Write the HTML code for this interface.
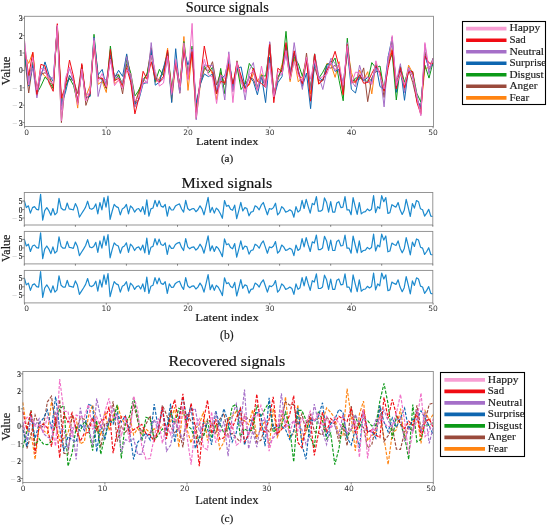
<!DOCTYPE html>
<html><head><meta charset="utf-8"><style>
html,body{margin:0;padding:0;background:#fff;width:550px;height:527px;overflow:hidden}
svg{display:block}
.ser{font-family:"Liberation Serif",serif;fill:#1a1a1a;stroke:#1a1a1a;stroke-width:0.18}
.ttl{font-family:"Liberation Serif",serif;fill:#111;stroke:#111;stroke-width:0.16}
.lg{stroke-width:0.14}
.mn{font-family:"Liberation Serif",serif;fill:#b0b0b0}
.sans{font-family:"DejaVu Sans","Liberation Sans",sans-serif;fill:#333}
</style></head><body>
<svg width="550" height="527" viewBox="0 0 550 527">
<rect width="550" height="527" fill="#fff"/>
<text x="227.25" y="12.4" font-size="13.6" text-anchor="middle" class="ttl" textLength="83" lengthAdjust="spacingAndGlyphs">Source signals</text>
<g fill="none" stroke-width="1.0" stroke-linejoin="round">
<polyline stroke="#ff8412" points="24.6,54.7 28.7,63.4 32.8,52.5 36.9,91.2 40.9,71.7 45.0,76.4 49.1,78.5 53.2,85.8 57.3,27.2 61.4,101.7 65.5,86.9 69.5,75.8 73.6,81.1 77.7,108.1 81.8,65.0 85.9,96.3 90.0,85.9 94.0,42.4 98.1,84.3 102.2,81.4 106.3,92.5 110.4,50.6 114.5,83.7 118.6,80.6 122.6,85.2 126.7,55.5 130.8,75.5 134.9,106.0 139.0,89.5 143.1,82.1 147.2,73.0 151.2,51.9 155.3,82.3 159.4,78.3 163.5,70.8 167.6,48.2 171.7,101.7 175.7,62.6 179.8,89.4 183.9,36.5 188.0,90.4 192.1,53.0 196.2,118.8 200.3,84.7 204.3,69.5 208.4,65.7 212.5,74.4 216.6,99.8 220.7,72.9 224.8,84.1 228.8,67.2 232.9,90.3 237.0,67.6 241.1,82.7 245.2,87.7 249.3,85.0 253.4,73.3 257.4,81.8 261.5,73.8 265.6,83.2 269.7,44.8 273.8,92.0 277.9,80.3 282.0,64.3 286.0,49.5 290.1,81.7 294.2,59.0 298.3,81.9 302.4,76.5 306.5,57.9 310.6,93.8 314.6,54.3 318.7,83.7 322.8,80.2 326.9,63.4 331.0,64.5 335.1,77.4 339.1,61.7 343.2,95.7 347.3,46.0 351.4,72.7 355.5,83.4 359.6,70.1 363.7,79.7 367.7,71.7 371.8,93.9 375.9,63.2 380.0,74.5 384.1,90.3 388.2,62.4 392.2,48.4 396.3,80.2 400.4,74.4 404.5,86.8 408.6,65.2 412.7,73.1 416.8,98.3 420.8,108.1 424.9,68.7 429.0,67.3 433.1,65.3"/>
<polyline stroke="#9a4a3c" points="24.6,56.7 28.7,93.0 32.8,64.0 36.9,95.5 40.9,74.3 45.0,72.7 49.1,75.8 53.2,86.7 57.3,27.4 61.4,122.6 65.5,81.5 69.5,79.2 73.6,80.4 77.7,93.6 81.8,65.0 85.9,105.4 90.0,93.4 94.0,40.2 98.1,77.4 102.2,78.5 106.3,88.3 110.4,57.8 114.5,76.4 118.6,74.3 122.6,93.9 126.7,63.9 130.8,77.3 134.9,103.5 139.0,91.7 143.1,82.0 147.2,73.6 151.2,47.7 155.3,77.1 159.4,80.8 163.5,68.3 167.6,59.3 171.7,94.7 175.7,63.1 179.8,93.3 183.9,45.1 188.0,74.4 192.1,48.1 196.2,107.5 200.3,83.5 204.3,68.3 208.4,71.1 212.5,61.7 216.6,85.0 220.7,72.2 224.8,84.8 228.8,57.6 232.9,89.8 237.0,60.8 241.1,81.0 245.2,84.2 249.3,77.8 253.4,79.1 257.4,89.8 261.5,77.0 265.6,87.3 269.7,42.6 273.8,93.1 277.9,78.6 282.0,67.3 286.0,51.2 290.1,74.5 294.2,53.0 298.3,71.8 302.4,84.4 306.5,53.0 310.6,88.5 314.6,66.8 318.7,80.6 322.8,80.8 326.9,66.9 331.0,68.2 335.1,65.3 339.1,71.0 343.2,87.1 347.3,51.1 351.4,80.5 355.5,80.2 359.6,79.3 363.7,67.9 367.7,101.7 371.8,77.7 375.9,71.4 380.0,71.5 384.1,97.5 388.2,61.9 392.2,39.0 396.3,88.8 400.4,70.5 404.5,90.1 408.6,69.2 412.7,82.4 416.8,99.9 420.8,109.3 424.9,52.1 429.0,69.5 433.1,58.0"/>
<polyline stroke="#0c9a18" points="24.6,58.2 28.7,77.9 32.8,62.1 36.9,93.5 40.9,86.1 45.0,77.1 49.1,81.4 53.2,88.6 57.3,25.8 61.4,106.0 65.5,86.7 69.5,78.1 73.6,85.6 77.7,103.1 81.8,67.6 85.9,98.1 90.0,96.3 94.0,34.3 98.1,77.6 102.2,79.5 106.3,88.3 110.4,46.0 114.5,80.4 118.6,75.0 122.6,84.4 126.7,59.7 130.8,73.3 134.9,96.0 139.0,90.0 143.1,79.6 147.2,74.0 151.2,52.9 155.3,81.6 159.4,69.4 163.5,75.8 167.6,51.8 171.7,88.2 175.7,61.4 179.8,85.0 183.9,41.5 188.0,75.5 192.1,46.1 196.2,109.7 200.3,82.8 204.3,65.9 208.4,73.1 212.5,67.1 216.6,93.7 220.7,68.4 224.8,93.8 228.8,59.9 232.9,85.5 237.0,66.4 241.1,89.5 245.2,83.2 249.3,63.4 253.4,69.5 257.4,87.2 261.5,75.5 265.6,76.1 269.7,48.5 273.8,97.0 277.9,77.5 282.0,69.8 286.0,31.3 290.1,79.3 294.2,57.3 298.3,63.6 302.4,76.4 306.5,60.8 310.6,88.4 314.6,53.8 318.7,78.4 322.8,72.2 326.9,64.2 331.0,64.5 335.1,58.0 339.1,80.3 343.2,100.8 347.3,38.2 351.4,83.2 355.5,78.0 359.6,77.7 363.7,79.8 367.7,81.8 371.8,62.6 375.9,67.9 380.0,66.0 384.1,90.4 388.2,63.7 392.2,53.9 396.3,100.0 400.4,66.1 404.5,82.3 408.6,69.7 412.7,71.9 416.8,93.3 420.8,101.9 424.9,65.2 429.0,78.1 433.1,62.0"/>
<polyline stroke="#0e66b0" points="24.6,52.5 28.7,86.1 32.8,64.8 36.9,88.6 40.9,75.8 45.0,61.9 49.1,75.2 53.2,81.4 57.3,26.6 61.4,104.9 65.5,92.1 69.5,75.3 73.6,81.7 77.7,101.4 81.8,68.9 85.9,97.4 90.0,96.5 94.0,37.3 98.1,74.9 102.2,69.4 106.3,86.9 110.4,54.8 114.5,77.9 118.6,70.3 122.6,76.4 126.7,53.9 130.8,81.5 134.9,104.3 139.0,99.2 143.1,83.7 147.2,82.5 151.2,49.7 155.3,85.2 159.4,82.2 163.5,67.6 167.6,52.7 171.7,102.6 175.7,48.7 179.8,90.4 183.9,50.3 188.0,65.2 192.1,50.3 196.2,102.8 200.3,84.4 204.3,73.9 208.4,76.6 212.5,74.1 216.6,91.5 220.7,78.4 224.8,75.8 228.8,59.0 232.9,85.9 237.0,68.8 241.1,66.9 245.2,88.0 249.3,76.3 253.4,81.6 257.4,94.8 261.5,76.2 265.6,102.6 269.7,57.0 273.8,98.4 277.9,82.6 282.0,76.6 286.0,44.6 290.1,72.5 294.2,52.9 298.3,70.0 302.4,86.4 306.5,73.0 310.6,108.7 314.6,63.1 318.7,77.1 322.8,80.5 326.9,65.4 331.0,61.3 335.1,71.4 339.1,69.2 343.2,83.1 347.3,50.2 351.4,89.3 355.5,93.0 359.6,74.8 363.7,81.0 367.7,77.4 371.8,81.1 375.9,64.8 380.0,86.6 384.1,89.5 388.2,56.8 392.2,37.1 396.3,92.4 400.4,67.3 404.5,100.3 408.6,67.5 412.7,75.9 416.8,98.9 420.8,107.2 424.9,55.9 429.0,68.2 433.1,64.6"/>
<polyline stroke="#a56fc8" points="24.6,42.6 28.7,79.9 32.8,68.1 36.9,97.9 40.9,74.1 45.0,67.4 49.1,77.4 53.2,78.1 57.3,30.5 61.4,109.7 65.5,83.3 69.5,68.7 73.6,80.1 77.7,100.5 81.8,71.0 85.9,94.0 90.0,94.4 94.0,37.9 98.1,96.5 102.2,79.2 106.3,79.8 110.4,60.6 114.5,76.9 118.6,77.4 122.6,83.4 126.7,56.7 130.8,81.2 134.9,107.2 139.0,98.9 143.1,78.0 147.2,83.5 151.2,42.6 155.3,78.7 159.4,82.7 163.5,78.7 167.6,58.0 171.7,94.9 175.7,62.6 179.8,93.0 183.9,48.1 188.0,75.8 192.1,48.9 196.2,119.9 200.3,82.6 204.3,64.8 208.4,65.8 212.5,65.3 216.6,90.2 220.7,75.3 224.8,100.0 228.8,51.8 232.9,91.8 237.0,64.8 241.1,75.8 245.2,100.0 249.3,70.3 253.4,62.6 257.4,89.7 261.5,76.4 265.6,84.4 269.7,41.7 273.8,97.2 277.9,77.9 282.0,73.3 286.0,54.5 290.1,76.6 294.2,42.6 298.3,70.4 302.4,89.5 306.5,59.0 310.6,90.0 314.6,53.9 318.7,75.9 322.8,89.5 326.9,70.6 331.0,58.2 335.1,63.6 339.1,72.0 343.2,91.1 347.3,42.7 351.4,81.0 355.5,86.9 359.6,65.2 363.7,80.2 367.7,82.1 371.8,83.7 375.9,68.5 380.0,73.3 384.1,106.9 388.2,56.4 392.2,44.6 396.3,81.9 400.4,63.7 404.5,92.6 408.6,68.8 412.7,75.8 416.8,94.0 420.8,115.3 424.9,44.3 429.0,73.6 433.1,58.2"/>
<polyline stroke="#f00c14" points="24.6,48.6 28.7,75.6 32.8,52.3 36.9,94.4 40.9,64.3 45.0,65.9 49.1,83.0 53.2,91.3 57.3,23.7 61.4,98.2 65.5,85.8 69.5,60.0 73.6,76.9 77.7,103.0 81.8,63.6 85.9,98.9 90.0,94.2 94.0,44.3 98.1,78.6 102.2,78.0 106.3,87.8 110.4,49.4 114.5,80.8 118.6,78.3 122.6,86.6 126.7,67.8 130.8,82.6 134.9,113.9 139.0,97.1 143.1,71.3 147.2,79.4 151.2,61.7 155.3,79.1 159.4,82.0 163.5,76.4 167.6,50.1 171.7,92.8 175.7,62.5 179.8,86.0 183.9,49.5 188.0,78.9 192.1,51.6 196.2,112.4 200.3,79.5 204.3,46.0 208.4,67.9 212.5,71.8 216.6,93.7 220.7,81.3 224.8,82.9 228.8,63.8 232.9,84.1 237.0,62.9 241.1,76.0 245.2,89.3 249.3,83.2 253.4,68.1 257.4,80.9 261.5,83.6 265.6,87.2 269.7,44.5 273.8,102.7 277.9,68.2 282.0,71.9 286.0,42.6 290.1,78.4 294.2,50.8 298.3,72.7 302.4,83.6 306.5,59.8 310.6,101.2 314.6,54.1 318.7,84.2 322.8,79.6 326.9,70.3 331.0,63.4 335.1,51.3 339.1,66.7 343.2,94.7 347.3,44.5 351.4,82.1 355.5,82.0 359.6,74.8 363.7,83.3 367.7,82.4 371.8,73.4 375.9,65.8 380.0,72.6 384.1,91.2 388.2,67.7 392.2,50.5 396.3,88.9 400.4,67.6 404.5,87.8 408.6,72.1 412.7,71.4 416.8,102.1 420.8,113.9 424.9,55.9 429.0,63.0 433.1,63.5"/>
<polyline stroke="#f070c8" points="24.6,40.8 28.7,85.0 32.8,57.5 36.9,90.2 40.9,68.2 45.0,70.4 49.1,80.7 53.2,83.8 57.3,25.2 61.4,120.9 65.5,77.6 69.5,66.9 73.6,82.2 77.7,104.8 81.8,68.9 85.9,101.0 90.0,91.0 94.0,40.5 98.1,81.5 102.2,73.5 106.3,86.7 110.4,59.1 114.5,85.6 118.6,79.9 122.6,88.7 126.7,69.6 130.8,73.7 134.9,100.9 139.0,96.5 143.1,82.8 147.2,82.2 151.2,55.1 155.3,71.4 159.4,86.1 163.5,83.1 167.6,55.9 171.7,93.4 175.7,59.4 179.8,87.4 183.9,42.8 188.0,80.2 192.1,23.4 196.2,117.4 200.3,78.5 204.3,59.2 208.4,74.7 212.5,77.3 216.6,103.5 220.7,75.1 224.8,78.4 228.8,54.4 232.9,102.6 237.0,62.3 241.1,81.9 245.2,92.5 249.3,74.6 253.4,70.5 257.4,90.7 261.5,66.1 265.6,87.6 269.7,63.4 273.8,96.9 277.9,71.3 282.0,74.5 286.0,50.7 290.1,79.1 294.2,61.4 298.3,75.7 302.4,81.2 306.5,57.1 310.6,79.2 314.6,60.6 318.7,78.8 322.8,76.6 326.9,74.3 331.0,62.0 335.1,70.4 339.1,63.6 343.2,85.3 347.3,45.7 351.4,84.2 355.5,72.1 359.6,72.8 363.7,78.6 367.7,76.7 371.8,84.5 375.9,60.8 380.0,75.6 384.1,88.9 388.2,62.0 392.2,35.6 396.3,85.5 400.4,72.6 404.5,85.1 408.6,67.8 412.7,75.6 416.8,97.1 420.8,115.6 424.9,42.6 429.0,68.6 433.1,60.0"/>
</g>
<rect x="24.5" y="16.3" width="409.0" height="110.2" fill="none" stroke="#8a8a8a" stroke-width="0.9"/>
<line x1="22.5" y1="122.6" x2="24.5" y2="122.6" stroke="#555" stroke-width="0.7"/>
<text x="22.6" y="125.6" font-size="7.3" text-anchor="end" class="ser">3</text>
<text x="11.9" y="125.6" font-size="7.3" class="mn" textLength="5.2" lengthAdjust="spacingAndGlyphs">−</text>
<line x1="22.5" y1="105.2" x2="24.5" y2="105.2" stroke="#555" stroke-width="0.7"/>
<text x="22.6" y="108.2" font-size="7.3" text-anchor="end" class="ser">2</text>
<text x="11.9" y="108.2" font-size="7.3" class="mn" textLength="5.2" lengthAdjust="spacingAndGlyphs">−</text>
<line x1="22.5" y1="87.8" x2="24.5" y2="87.8" stroke="#555" stroke-width="0.7"/>
<text x="22.6" y="90.8" font-size="7.3" text-anchor="end" class="ser">1</text>
<text x="11.9" y="90.8" font-size="7.3" class="mn" textLength="5.2" lengthAdjust="spacingAndGlyphs">−</text>
<line x1="22.5" y1="70.4" x2="24.5" y2="70.4" stroke="#555" stroke-width="0.7"/>
<text x="22.6" y="73.4" font-size="7.3" text-anchor="end" class="ser">0</text>
<line x1="22.5" y1="53.0" x2="24.5" y2="53.0" stroke="#555" stroke-width="0.7"/>
<text x="22.6" y="56.0" font-size="7.3" text-anchor="end" class="ser">1</text>
<line x1="22.5" y1="35.6" x2="24.5" y2="35.6" stroke="#555" stroke-width="0.7"/>
<text x="22.6" y="38.6" font-size="7.3" text-anchor="end" class="ser">2</text>
<line x1="22.5" y1="18.2" x2="24.5" y2="18.2" stroke="#555" stroke-width="0.7"/>
<text x="22.6" y="21.2" font-size="7.3" text-anchor="end" class="ser">3</text>
<line x1="24.6" y1="126.5" x2="24.6" y2="128.3" stroke="#555" stroke-width="0.7"/>
<text x="26.6" y="135.0" font-size="7.5" text-anchor="middle" class="sans">0</text>
<line x1="106.3" y1="126.5" x2="106.3" y2="128.3" stroke="#555" stroke-width="0.7"/>
<text x="106.3" y="135.0" font-size="7.5" text-anchor="middle" class="sans">10</text>
<line x1="188.0" y1="126.5" x2="188.0" y2="128.3" stroke="#555" stroke-width="0.7"/>
<text x="188.0" y="135.0" font-size="7.5" text-anchor="middle" class="sans">20</text>
<line x1="269.7" y1="126.5" x2="269.7" y2="128.3" stroke="#555" stroke-width="0.7"/>
<text x="269.7" y="135.0" font-size="7.5" text-anchor="middle" class="sans">30</text>
<line x1="351.4" y1="126.5" x2="351.4" y2="128.3" stroke="#555" stroke-width="0.7"/>
<text x="351.4" y="135.0" font-size="7.5" text-anchor="middle" class="sans">40</text>
<line x1="433.1" y1="126.5" x2="433.1" y2="128.3" stroke="#555" stroke-width="0.7"/>
<text x="433.1" y="135.0" font-size="7.5" text-anchor="middle" class="sans">50</text>
<text transform="translate(10.0,70.9) rotate(-90)" font-size="11.6" text-anchor="middle" class="ser" textLength="28.6" lengthAdjust="spacingAndGlyphs">Value</text>
<text x="227.2" y="144.8" font-size="10.8" text-anchor="middle" class="ser" textLength="62.6" lengthAdjust="spacingAndGlyphs">Latent index</text>
<text x="227.1" y="161.7" font-size="11.2" text-anchor="middle" class="ser">(a)</text>
<rect x="462.5" y="21.5" width="83.0" height="83.0" fill="#fff" stroke="#000" stroke-width="1.1"/>
<line x1="466.1" y1="28.6" x2="506.5" y2="28.6" stroke="#f79fd4" stroke-width="3.6"/>
<text x="509.4" y="31.4" font-size="9.6" class="ser lg" textLength="30.8" lengthAdjust="spacingAndGlyphs">Happy</text>
<line x1="466.1" y1="40.2" x2="506.5" y2="40.2" stroke="#f00c14" stroke-width="3.6"/>
<text x="509.4" y="43.0" font-size="9.6" class="ser lg" textLength="16.3" lengthAdjust="spacingAndGlyphs">Sad</text>
<line x1="466.1" y1="51.7" x2="506.5" y2="51.7" stroke="#a56fc8" stroke-width="3.6"/>
<text x="509.4" y="54.5" font-size="9.6" class="ser lg" textLength="34.6" lengthAdjust="spacingAndGlyphs">Neutral</text>
<line x1="466.1" y1="63.3" x2="506.5" y2="63.3" stroke="#0e66b0" stroke-width="3.6"/>
<text x="509.4" y="66.1" font-size="9.6" class="ser lg" textLength="36.9" lengthAdjust="spacingAndGlyphs">Surprise</text>
<line x1="466.1" y1="74.8" x2="506.5" y2="74.8" stroke="#0c9a18" stroke-width="3.6"/>
<text x="509.4" y="77.6" font-size="9.6" class="ser lg" textLength="34.2" lengthAdjust="spacingAndGlyphs">Disgust</text>
<line x1="466.1" y1="86.3" x2="506.5" y2="86.3" stroke="#9a4a3c" stroke-width="3.6"/>
<text x="509.4" y="89.1" font-size="9.6" class="ser lg" textLength="28" lengthAdjust="spacingAndGlyphs">Anger</text>
<line x1="466.1" y1="97.9" x2="506.5" y2="97.9" stroke="#ff8412" stroke-width="3.6"/>
<text x="509.4" y="100.7" font-size="9.6" class="ser lg" textLength="19.7" lengthAdjust="spacingAndGlyphs">Fear</text>
<text x="226.85" y="188.2" font-size="13.6" text-anchor="middle" class="ttl" textLength="90.6" lengthAdjust="spacingAndGlyphs">Mixed signals</text>
<polyline fill="none" stroke="#1c8ace" stroke-width="1.2" stroke-linejoin="round" points="24.3,200.7 26.3,207.6 28.4,205.8 30.4,213.1 32.5,207.6 34.5,206.6 36.6,209.3 38.6,209.8 40.6,194.4 42.7,220.2 44.7,210.7 46.8,207.6 48.8,210.7 50.9,215.3 52.9,208.5 54.9,214.8 57.0,212.6 59.0,198.4 61.1,208.0 63.1,209.8 65.2,209.8 67.2,203.0 69.2,208.9 71.3,209.3 73.3,210.0 75.4,203.6 77.4,207.8 79.4,217.2 81.5,213.8 83.5,210.7 85.6,207.1 87.6,201.2 89.7,208.5 91.7,209.3 93.7,208.0 95.8,203.9 97.8,213.9 99.9,202.5 101.9,209.8 104.0,197.6 106.0,207.1 108.0,196.2 110.1,219.4 112.1,211.5 114.2,204.4 116.2,206.6 118.3,207.6 120.3,214.8 122.3,208.9 124.4,207.6 126.4,204.4 128.5,213.9 130.5,205.8 132.6,208.0 134.6,212.1 136.6,209.3 138.7,208.5 140.7,211.7 142.8,206.6 144.8,214.4 146.8,199.8 148.9,216.1 150.9,208.9 153.0,208.0 155.0,200.3 157.1,206.6 159.1,200.7 161.1,206.1 163.2,207.1 165.2,204.4 167.3,216.1 169.3,206.6 171.4,210.0 173.4,209.8 175.4,206.1 177.5,204.7 179.5,203.9 181.6,209.0 183.6,212.1 185.7,200.3 187.7,208.5 189.7,210.3 191.8,208.9 193.8,208.5 195.9,211.7 197.9,209.8 200.0,205.8 202.0,208.9 204.0,214.8 206.1,206.1 208.1,197.4 210.2,212.4 212.2,207.4 214.3,213.1 216.3,208.1 218.3,210.0 220.4,213.8 222.4,218.3 224.5,200.5 226.5,206.3 228.6,205.4 230.6,209.2 232.6,210.3 234.7,205.1 236.7,218.7 238.8,210.7 240.8,202.4 242.8,211.0 244.9,207.6 246.9,208.5 249.0,215.8 251.0,212.1 253.1,211.5 255.1,205.8 257.1,207.1 259.2,209.8 261.2,205.2 263.3,202.5 265.3,208.5 267.4,214.8 269.4,208.5 271.4,209.3 273.5,207.6 275.5,203.2 277.6,214.8 279.6,212.6 281.7,206.6 283.7,208.5 285.7,212.1 287.8,211.2 289.8,209.8 291.9,211.2 293.9,217.2 296.0,206.6 298.0,212.1 300.0,210.3 302.1,200.3 304.1,208.5 306.2,199.3 308.2,206.6 310.2,213.1 312.3,203.4 314.3,204.7 316.4,196.6 318.4,211.2 320.5,211.2 322.5,209.7 324.5,197.9 326.6,202.5 328.6,212.1 330.7,201.7 332.7,212.1 334.8,212.1 336.8,203.0 338.8,201.7 340.9,207.6 342.9,207.1 345.0,196.6 347.0,209.8 349.1,209.8 351.1,214.8 353.1,197.6 355.2,206.6 357.2,214.4 359.3,202.5 361.3,213.9 363.4,212.1 365.4,211.7 367.4,209.0 369.5,210.7 371.5,209.2 373.6,195.7 375.6,212.6 377.7,206.6 379.7,208.5 381.7,195.7 383.8,201.7 385.8,197.6 387.9,213.4 389.9,212.6 391.9,204.7 394.0,206.1 396.0,207.1 398.1,202.5 400.1,209.8 402.2,214.4 404.2,210.3 406.2,199.3 408.3,207.8 410.3,216.5 412.4,203.6 414.4,208.1 416.5,200.5 418.5,201.7 420.5,208.8 422.6,209.7 424.6,216.1 426.7,213.1 428.7,209.3 430.8,216.1 432.8,216.5"/>
<rect x="24.3" y="192.5" width="408.5" height="32.5" fill="none" stroke="#8a8a8a" stroke-width="0.9"/>
<line x1="22.3" y1="201.0" x2="24.3" y2="201.0" stroke="#555" stroke-width="0.7"/>
<text x="22.4" y="204.0" font-size="7.3" text-anchor="end" class="ser">5</text>
<line x1="22.3" y1="209.5" x2="24.3" y2="209.5" stroke="#555" stroke-width="0.7"/>
<text x="22.4" y="212.5" font-size="7.3" text-anchor="end" class="ser">0</text>
<line x1="22.3" y1="218.0" x2="24.3" y2="218.0" stroke="#555" stroke-width="0.7"/>
<text x="22.4" y="221.0" font-size="7.3" text-anchor="end" class="ser">5</text>
<text x="11.7" y="221.0" font-size="7.3" class="mn" textLength="5.2" lengthAdjust="spacingAndGlyphs">−</text>
<line x1="24.3" y1="225.0" x2="24.3" y2="226.8" stroke="#555" stroke-width="0.7"/>
<line x1="75.4" y1="225.0" x2="75.4" y2="226.8" stroke="#555" stroke-width="0.7"/>
<line x1="126.4" y1="225.0" x2="126.4" y2="226.8" stroke="#555" stroke-width="0.7"/>
<line x1="177.5" y1="225.0" x2="177.5" y2="226.8" stroke="#555" stroke-width="0.7"/>
<line x1="228.5" y1="225.0" x2="228.5" y2="226.8" stroke="#555" stroke-width="0.7"/>
<line x1="279.6" y1="225.0" x2="279.6" y2="226.8" stroke="#555" stroke-width="0.7"/>
<line x1="330.7" y1="225.0" x2="330.7" y2="226.8" stroke="#555" stroke-width="0.7"/>
<line x1="381.7" y1="225.0" x2="381.7" y2="226.8" stroke="#555" stroke-width="0.7"/>
<line x1="432.8" y1="225.0" x2="432.8" y2="226.8" stroke="#555" stroke-width="0.7"/>
<polyline fill="none" stroke="#1c8ace" stroke-width="1.2" stroke-linejoin="round" points="24.3,239.1 26.3,246.0 28.4,244.2 30.4,251.5 32.5,246.0 34.5,245.0 36.6,247.7 38.6,248.2 40.6,232.8 42.7,258.6 44.7,249.1 46.8,246.0 48.8,249.1 50.9,253.7 52.9,246.9 54.9,253.2 57.0,251.0 59.0,236.8 61.1,246.4 63.1,248.2 65.2,248.2 67.2,241.4 69.2,247.3 71.3,247.7 73.3,248.4 75.4,242.0 77.4,246.2 79.4,255.6 81.5,252.2 83.5,249.1 85.6,245.5 87.6,239.6 89.7,246.9 91.7,247.7 93.7,246.4 95.8,242.3 97.8,252.3 99.9,240.9 101.9,248.2 104.0,236.0 106.0,245.5 108.0,234.6 110.1,257.8 112.1,249.9 114.2,242.8 116.2,245.0 118.3,246.0 120.3,253.2 122.3,247.3 124.4,246.0 126.4,242.8 128.5,252.3 130.5,244.2 132.6,246.4 134.6,250.5 136.6,247.7 138.7,246.9 140.7,250.1 142.8,245.0 144.8,252.8 146.8,238.2 148.9,254.5 150.9,247.3 153.0,246.4 155.0,238.7 157.1,245.0 159.1,239.1 161.1,244.5 163.2,245.5 165.2,242.8 167.3,254.5 169.3,245.0 171.4,248.4 173.4,248.2 175.4,244.5 177.5,243.1 179.5,242.3 181.6,247.4 183.6,250.5 185.7,238.7 187.7,246.9 189.7,248.8 191.8,247.3 193.8,246.9 195.9,250.1 197.9,248.2 200.0,244.2 202.0,247.3 204.0,253.2 206.1,244.5 208.1,235.8 210.2,250.8 212.2,245.8 214.3,251.5 216.3,246.5 218.3,248.4 220.4,252.2 222.4,256.7 224.5,238.9 226.5,244.7 228.6,243.8 230.6,247.6 232.6,248.8 234.7,243.5 236.7,257.1 238.8,249.1 240.8,240.8 242.8,249.4 244.9,246.0 246.9,246.9 249.0,254.2 251.0,250.5 253.1,249.9 255.1,244.2 257.1,245.5 259.2,248.2 261.2,243.7 263.3,240.9 265.3,246.9 267.4,253.2 269.4,246.9 271.4,247.7 273.5,246.0 275.5,241.6 277.6,253.2 279.6,251.0 281.7,245.0 283.7,246.9 285.7,250.5 287.8,249.6 289.8,248.2 291.9,249.6 293.9,255.6 296.0,245.0 298.0,250.5 300.0,248.8 302.1,238.7 304.1,246.9 306.2,237.7 308.2,245.0 310.2,251.5 312.3,241.8 314.3,243.1 316.4,235.0 318.4,249.6 320.5,249.6 322.5,248.1 324.5,236.3 326.6,240.9 328.6,250.5 330.7,240.1 332.7,250.5 334.8,250.5 336.8,241.4 338.8,240.1 340.9,246.0 342.9,245.5 345.0,235.0 347.0,248.2 349.1,248.2 351.1,253.2 353.1,236.0 355.2,245.0 357.2,252.8 359.3,240.9 361.3,252.3 363.4,250.5 365.4,250.1 367.4,247.4 369.5,249.1 371.5,247.6 373.6,234.1 375.6,251.0 377.7,245.0 379.7,246.9 381.7,234.1 383.8,240.1 385.8,236.0 387.9,251.8 389.9,251.0 391.9,243.1 394.0,244.5 396.0,245.5 398.1,240.9 400.1,248.2 402.2,252.8 404.2,248.8 406.2,237.7 408.3,246.2 410.3,254.9 412.4,242.0 414.4,246.5 416.5,238.9 418.5,240.1 420.5,247.2 422.6,248.1 424.6,254.5 426.7,251.5 428.7,247.7 430.8,254.5 432.8,254.9"/>
<rect x="24.3" y="231.4" width="408.5" height="32.5" fill="none" stroke="#8a8a8a" stroke-width="0.9"/>
<line x1="22.3" y1="239.4" x2="24.3" y2="239.4" stroke="#555" stroke-width="0.7"/>
<text x="22.4" y="242.4" font-size="7.3" text-anchor="end" class="ser">5</text>
<line x1="22.3" y1="247.9" x2="24.3" y2="247.9" stroke="#555" stroke-width="0.7"/>
<text x="22.4" y="250.9" font-size="7.3" text-anchor="end" class="ser">0</text>
<line x1="22.3" y1="256.4" x2="24.3" y2="256.4" stroke="#555" stroke-width="0.7"/>
<text x="22.4" y="259.4" font-size="7.3" text-anchor="end" class="ser">5</text>
<text x="11.7" y="259.4" font-size="7.3" class="mn" textLength="5.2" lengthAdjust="spacingAndGlyphs">−</text>
<line x1="24.3" y1="263.9" x2="24.3" y2="265.7" stroke="#555" stroke-width="0.7"/>
<line x1="75.4" y1="263.9" x2="75.4" y2="265.7" stroke="#555" stroke-width="0.7"/>
<line x1="126.4" y1="263.9" x2="126.4" y2="265.7" stroke="#555" stroke-width="0.7"/>
<line x1="177.5" y1="263.9" x2="177.5" y2="265.7" stroke="#555" stroke-width="0.7"/>
<line x1="228.5" y1="263.9" x2="228.5" y2="265.7" stroke="#555" stroke-width="0.7"/>
<line x1="279.6" y1="263.9" x2="279.6" y2="265.7" stroke="#555" stroke-width="0.7"/>
<line x1="330.7" y1="263.9" x2="330.7" y2="265.7" stroke="#555" stroke-width="0.7"/>
<line x1="381.7" y1="263.9" x2="381.7" y2="265.7" stroke="#555" stroke-width="0.7"/>
<line x1="432.8" y1="263.9" x2="432.8" y2="265.7" stroke="#555" stroke-width="0.7"/>
<polyline fill="none" stroke="#1c8ace" stroke-width="1.2" stroke-linejoin="round" points="24.3,278.0 26.3,284.9 28.4,283.1 30.4,290.4 32.5,284.9 34.5,283.9 36.6,286.6 38.6,287.1 40.6,271.7 42.7,297.5 44.7,288.0 46.8,284.9 48.8,288.0 50.9,292.6 52.9,285.8 54.9,292.1 57.0,289.9 59.0,275.8 61.1,285.3 63.1,287.1 65.2,287.1 67.2,280.3 69.2,286.2 71.3,286.6 73.3,287.3 75.4,280.9 77.4,285.1 79.4,294.4 81.5,291.1 83.5,288.0 85.6,284.4 87.6,278.5 89.7,285.8 91.7,286.6 93.7,285.3 95.8,281.2 97.8,291.2 99.9,279.8 101.9,287.1 104.0,274.9 106.0,284.4 108.0,273.5 110.1,296.7 112.1,288.8 114.2,281.7 116.2,283.9 118.3,284.9 120.3,292.1 122.3,286.2 124.4,284.9 126.4,281.7 128.5,291.2 130.5,283.1 132.6,285.3 134.6,289.4 136.6,286.6 138.7,285.8 140.7,289.0 142.8,283.9 144.8,291.7 146.8,277.1 148.9,293.4 150.9,286.2 153.0,285.3 155.0,277.6 157.1,283.9 159.1,278.0 161.1,283.4 163.2,284.4 165.2,281.7 167.3,293.4 169.3,283.9 171.4,287.3 173.4,287.1 175.4,283.4 177.5,282.0 179.5,281.2 181.6,286.3 183.6,289.4 185.7,277.6 187.7,285.8 189.7,287.7 191.8,286.2 193.8,285.8 195.9,289.0 197.9,287.1 200.0,283.1 202.0,286.2 204.0,292.1 206.1,283.4 208.1,274.7 210.2,289.7 212.2,284.7 214.3,290.4 216.3,285.4 218.3,287.3 220.4,291.1 222.4,295.6 224.5,277.8 226.5,283.6 228.6,282.7 230.6,286.5 232.6,287.7 234.7,282.4 236.7,296.0 238.8,288.0 240.8,279.7 242.8,288.3 244.9,284.9 246.9,285.8 249.0,293.1 251.0,289.4 253.1,288.8 255.1,283.1 257.1,284.4 259.2,287.1 261.2,282.6 263.3,279.8 265.3,285.8 267.4,292.1 269.4,285.8 271.4,286.6 273.5,284.9 275.5,280.5 277.6,292.1 279.6,289.9 281.7,283.9 283.7,285.8 285.7,289.4 287.8,288.5 289.8,287.1 291.9,288.5 293.9,294.4 296.0,283.9 298.0,289.4 300.0,287.7 302.1,277.6 304.1,285.8 306.2,276.6 308.2,283.9 310.2,290.4 312.3,280.7 314.3,282.0 316.4,273.9 318.4,288.5 320.5,288.5 322.5,287.0 324.5,275.2 326.6,279.8 328.6,289.4 330.7,279.0 332.7,289.4 334.8,289.4 336.8,280.3 338.8,279.0 340.9,284.9 342.9,284.4 345.0,273.9 347.0,287.1 349.1,287.1 351.1,292.1 353.1,274.9 355.2,283.9 357.2,291.7 359.3,279.8 361.3,291.2 363.4,289.4 365.4,289.0 367.4,286.3 369.5,288.0 371.5,286.5 373.6,273.0 375.6,289.9 377.7,283.9 379.7,285.8 381.7,273.0 383.8,279.0 385.8,274.9 387.9,290.7 389.9,289.9 391.9,282.0 394.0,283.4 396.0,284.4 398.1,279.8 400.1,287.1 402.2,291.7 404.2,287.7 406.2,276.6 408.3,285.1 410.3,293.8 412.4,280.9 414.4,285.4 416.5,277.8 418.5,279.0 420.5,286.1 422.6,287.0 424.6,293.4 426.7,290.4 428.7,286.6 430.8,293.4 432.8,293.8"/>
<rect x="24.3" y="270.4" width="408.5" height="32.5" fill="none" stroke="#8a8a8a" stroke-width="0.9"/>
<line x1="22.3" y1="278.3" x2="24.3" y2="278.3" stroke="#555" stroke-width="0.7"/>
<text x="22.4" y="281.3" font-size="7.3" text-anchor="end" class="ser">5</text>
<line x1="22.3" y1="286.8" x2="24.3" y2="286.8" stroke="#555" stroke-width="0.7"/>
<text x="22.4" y="289.8" font-size="7.3" text-anchor="end" class="ser">0</text>
<line x1="22.3" y1="295.3" x2="24.3" y2="295.3" stroke="#555" stroke-width="0.7"/>
<text x="22.4" y="298.3" font-size="7.3" text-anchor="end" class="ser">5</text>
<text x="11.7" y="298.3" font-size="7.3" class="mn" textLength="5.2" lengthAdjust="spacingAndGlyphs">−</text>
<line x1="24.6" y1="302.9" x2="24.6" y2="304.7" stroke="#555" stroke-width="0.7"/>
<text x="26.6" y="311.4" font-size="7.5" text-anchor="middle" class="sans">0</text>
<line x1="106.3" y1="302.9" x2="106.3" y2="304.7" stroke="#555" stroke-width="0.7"/>
<text x="106.3" y="311.4" font-size="7.5" text-anchor="middle" class="sans">10</text>
<line x1="188.0" y1="302.9" x2="188.0" y2="304.7" stroke="#555" stroke-width="0.7"/>
<text x="188.0" y="311.4" font-size="7.5" text-anchor="middle" class="sans">20</text>
<line x1="269.7" y1="302.9" x2="269.7" y2="304.7" stroke="#555" stroke-width="0.7"/>
<text x="269.7" y="311.4" font-size="7.5" text-anchor="middle" class="sans">30</text>
<line x1="351.4" y1="302.9" x2="351.4" y2="304.7" stroke="#555" stroke-width="0.7"/>
<text x="351.4" y="311.4" font-size="7.5" text-anchor="middle" class="sans">40</text>
<line x1="433.1" y1="302.9" x2="433.1" y2="304.7" stroke="#555" stroke-width="0.7"/>
<text x="433.1" y="311.4" font-size="7.5" text-anchor="middle" class="sans">50</text>
<text transform="translate(10.0,248.3) rotate(-90)" font-size="11.6" text-anchor="middle" class="ser" textLength="27.6" lengthAdjust="spacingAndGlyphs">Value</text>
<text x="227.05" y="320.5" font-size="11.4" text-anchor="middle" class="ser" textLength="63.5" lengthAdjust="spacingAndGlyphs">Latent index</text>
<text x="226.8" y="339.0" font-size="11.6" text-anchor="middle" class="ser">(b)</text>
<text x="226.85" y="365.7" font-size="15.6" text-anchor="middle" class="ttl" textLength="116.6" lengthAdjust="spacingAndGlyphs">Recovered signals</text>
<g fill="none" stroke-width="1.15" stroke-dasharray="3.2 1.5">
<polyline stroke="#ff8412" points="22.8,402.4 26.9,430.1 31.0,432.8 35.1,459.4 39.2,426.3 43.3,430.6 47.4,433.5 51.5,401.8 55.6,420.5 59.7,440.7 63.9,438.3 68.0,432.7 72.1,416.8 76.2,418.6 80.3,444.0 84.4,441.4 88.5,416.2 92.6,404.8 96.7,426.6 100.8,435.5 104.9,411.3 109.0,430.4 113.1,416.3 117.2,405.1 121.3,417.6 125.4,425.2 129.5,416.2 133.6,434.9 137.7,428.6 141.8,434.0 146.0,429.0 150.1,432.8 154.2,428.7 158.3,431.4 162.4,425.0 166.5,425.3 170.6,422.2 174.7,407.1 178.8,447.3 182.9,408.6 187.0,429.4 191.1,443.0 195.2,428.5 199.3,424.9 203.4,411.7 207.5,440.6 211.6,423.2 215.7,424.6 219.8,449.1 223.9,442.3 228.1,418.0 232.2,416.7 236.3,411.4 240.4,418.9 244.5,420.8 248.6,424.5 252.7,409.7 256.8,437.7 260.9,428.1 265.0,421.0 269.1,447.7 273.2,408.4 277.3,437.0 281.4,427.2 285.5,396.8 289.6,437.5 293.7,433.4 297.8,404.9 301.9,440.9 306.0,432.1 310.2,419.2 314.3,420.0 318.4,418.1 322.5,421.2 326.6,407.9 330.7,412.4 334.8,418.1 338.9,435.5 343.0,435.9 347.1,388.7 351.2,416.8 355.3,451.0 359.4,414.2 363.5,401.1 367.6,440.7 371.7,435.5 375.8,432.7 379.9,414.9 384.0,438.0 388.1,464.6 392.3,433.3 396.4,429.6 400.5,408.6 404.6,439.3 408.7,425.2 412.8,422.5 416.9,414.5 421.0,443.4 425.1,411.0 429.2,420.3 433.3,414.3"/>
<polyline stroke="#9a4a3c" points="22.8,425.2 26.9,448.5 31.0,435.0 35.1,415.1 39.2,425.7 43.3,426.9 47.4,401.8 51.5,396.2 55.6,426.7 59.7,399.9 63.9,453.3 68.0,454.1 72.1,414.4 76.2,429.8 80.3,418.3 84.4,419.2 88.5,427.4 92.6,416.9 96.7,424.1 100.8,447.1 104.9,423.2 109.0,423.7 113.1,401.3 117.2,441.6 121.3,426.0 125.4,432.0 129.5,428.0 133.6,403.6 137.7,421.0 141.8,432.5 146.0,424.1 150.1,415.8 154.2,439.7 158.3,429.8 162.4,405.2 166.5,414.5 170.6,426.8 174.7,432.7 178.8,428.3 182.9,447.3 187.0,413.4 191.1,421.6 195.2,424.3 199.3,443.9 203.4,435.9 207.5,419.2 211.6,422.7 215.7,433.0 219.8,419.3 223.9,413.4 228.1,435.4 232.2,433.4 236.3,438.0 240.4,441.9 244.5,415.4 248.6,419.3 252.7,421.6 256.8,442.2 260.9,440.4 265.0,427.1 269.1,431.8 273.2,424.6 277.3,435.7 281.4,417.3 285.5,401.7 289.6,405.1 293.7,404.3 297.8,425.2 301.9,413.7 306.0,431.3 310.2,413.7 314.3,431.4 318.4,432.9 322.5,435.0 326.6,416.7 330.7,422.5 334.8,423.7 338.9,441.7 343.0,424.3 347.1,445.8 351.2,406.1 355.3,428.0 359.4,423.6 363.5,427.6 367.6,447.8 371.7,444.9 375.8,426.6 379.9,405.9 384.0,441.4 388.1,435.8 392.3,426.8 396.4,449.2 400.5,449.3 404.6,431.8 408.7,426.8 412.8,431.5 416.9,405.3 421.0,428.4 425.1,421.3 429.2,404.4 433.3,403.0"/>
<polyline stroke="#0c9a18" points="22.8,447.8 26.9,431.3 31.0,410.4 35.1,445.0 39.2,438.8 43.3,443.9 47.4,444.7 51.5,441.6 55.6,423.8 59.7,408.9 63.9,405.4 68.0,466.3 72.1,453.0 76.2,427.0 80.3,430.8 84.4,421.4 88.5,427.9 92.6,450.6 96.7,420.6 100.8,454.3 104.9,435.6 109.0,422.0 113.1,421.4 117.2,404.8 121.3,458.4 125.4,421.6 129.5,416.8 133.6,397.4 137.7,417.5 141.8,441.2 146.0,417.3 150.1,418.9 154.2,439.6 158.3,435.3 162.4,428.8 166.5,435.1 170.6,412.0 174.7,423.8 178.8,408.3 182.9,410.2 187.0,425.4 191.1,428.8 195.2,439.1 199.3,437.2 203.4,437.1 207.5,421.5 211.6,438.2 215.7,425.1 219.8,423.6 223.9,433.0 228.1,428.7 232.2,406.5 236.3,404.3 240.4,436.9 244.5,428.8 248.6,431.3 252.7,430.0 256.8,405.3 260.9,416.9 265.0,409.1 269.1,402.0 273.2,432.2 277.3,428.7 281.4,425.7 285.5,412.2 289.6,427.4 293.7,462.0 297.8,410.3 301.9,410.4 306.0,420.1 310.2,436.9 314.3,447.4 318.4,410.9 322.5,420.0 326.6,439.0 330.7,433.1 334.8,464.6 338.9,449.0 343.0,422.8 347.1,436.9 351.2,430.2 355.3,416.1 359.4,427.5 363.5,418.8 367.6,420.5 371.7,425.8 375.8,425.5 379.9,400.9 384.0,383.4 388.1,404.0 392.3,438.6 396.4,416.3 400.5,423.9 404.6,436.1 408.7,459.4 412.8,404.5 416.9,441.9 421.0,439.3 425.1,424.4 429.2,425.4 433.3,422.4"/>
<polyline stroke="#0e66b0" points="22.8,429.7 26.9,446.6 31.0,414.4 35.1,438.5 39.2,423.2 43.3,418.4 47.4,410.1 51.5,429.2 55.6,396.5 59.7,429.4 63.9,451.4 68.0,436.5 72.1,439.9 76.2,441.9 80.3,423.9 84.4,430.4 88.5,404.5 92.6,405.9 96.7,451.8 100.8,424.5 104.9,439.8 109.0,418.6 113.1,424.0 117.2,413.5 121.3,422.0 125.4,415.8 129.5,430.3 133.6,459.4 137.7,442.3 141.8,437.8 146.0,432.9 150.1,440.0 154.2,404.0 158.3,428.5 162.4,408.6 166.5,430.8 170.6,403.7 174.7,442.5 178.8,418.0 182.9,396.5 187.0,420.2 191.1,404.6 195.2,448.4 199.3,438.1 203.4,422.9 207.5,428.7 211.6,444.8 215.7,410.5 219.8,425.5 223.9,408.6 228.1,421.9 232.2,441.9 236.3,432.8 240.4,407.4 244.5,445.1 248.6,432.5 252.7,418.0 256.8,412.4 260.9,414.9 265.0,446.3 269.1,397.8 273.2,428.4 277.3,426.0 281.4,426.2 285.5,429.4 289.6,439.4 293.7,430.7 297.8,408.2 301.9,444.7 306.0,459.3 310.2,418.9 314.3,421.6 318.4,416.3 322.5,402.7 326.6,436.1 330.7,423.8 334.8,419.4 338.9,409.4 343.0,412.2 347.1,437.7 351.2,444.9 355.3,429.9 359.4,448.2 363.5,411.1 367.6,431.6 371.7,431.0 375.8,438.3 379.9,405.5 384.0,422.3 388.1,431.8 392.3,417.9 396.4,427.4 400.5,418.1 404.6,408.2 408.7,429.8 412.8,419.2 416.9,419.7 421.0,410.8 425.1,418.1 429.2,425.8 433.3,435.0"/>
<polyline stroke="#a56fc8" points="22.8,422.2 26.9,440.4 31.0,417.3 35.1,425.4 39.2,418.7 43.3,433.3 47.4,437.1 51.5,438.6 55.6,411.1 59.7,429.2 63.9,429.3 68.0,450.6 72.1,427.0 76.2,459.4 80.3,407.7 84.4,429.5 88.5,425.9 92.6,445.6 96.7,398.3 100.8,418.0 104.9,429.0 109.0,420.4 113.1,408.9 117.2,417.2 121.3,452.0 125.4,439.6 129.5,441.7 133.6,438.6 137.7,454.5 141.8,454.1 146.0,436.3 150.1,434.3 154.2,419.2 158.3,430.6 162.4,406.9 166.5,451.1 170.6,445.1 174.7,422.8 178.8,429.9 182.9,439.7 187.0,415.7 191.1,411.4 195.2,408.4 199.3,431.7 203.4,426.3 207.5,423.1 211.6,425.4 215.7,412.3 219.8,432.9 223.9,421.2 228.1,456.3 232.2,416.0 236.3,403.9 240.4,426.6 244.5,389.6 248.6,448.9 252.7,430.8 256.8,447.2 260.9,421.9 265.0,419.1 269.1,444.9 273.2,437.8 277.3,434.2 281.4,393.2 285.5,427.2 289.6,424.6 293.7,421.3 297.8,422.2 301.9,429.5 306.0,444.3 310.2,435.5 314.3,404.0 318.4,422.7 322.5,431.3 326.6,444.6 330.7,427.0 334.8,425.8 338.9,435.1 343.0,414.1 347.1,434.2 351.2,428.5 355.3,414.7 359.4,423.2 363.5,410.9 367.6,429.3 371.7,432.1 375.8,419.8 379.9,423.3 384.0,410.1 388.1,420.7 392.3,426.6 396.4,420.1 400.5,417.3 404.6,441.5 408.7,428.2 412.8,430.8 416.9,409.9 421.0,432.8 425.1,411.7 429.2,443.4 433.3,427.0"/>
<polyline stroke="#f00c14" points="22.8,411.7 26.9,429.7 31.0,410.5 35.1,453.8 39.2,425.8 43.3,424.0 47.4,427.9 51.5,446.7 55.6,417.1 59.7,457.9 63.9,413.3 68.0,422.2 72.1,412.8 76.2,429.7 80.3,441.3 84.4,433.2 88.5,432.5 92.6,418.1 96.7,430.4 100.8,420.5 104.9,419.6 109.0,406.8 113.1,453.2 117.2,431.7 121.3,416.8 125.4,416.7 129.5,433.7 133.6,429.7 137.7,427.3 141.8,424.3 146.0,433.7 150.1,434.8 154.2,441.2 158.3,431.2 162.4,407.1 166.5,438.9 170.6,412.9 174.7,399.6 178.8,423.2 182.9,393.8 187.0,427.8 191.1,403.2 195.2,426.5 199.3,466.3 203.4,421.1 207.5,400.1 211.6,433.7 215.7,419.2 219.8,439.3 223.9,437.7 228.1,419.5 232.2,428.2 236.3,418.0 240.4,408.3 244.5,441.7 248.6,435.0 252.7,425.0 256.8,394.1 260.9,430.0 265.0,432.1 269.1,419.5 273.2,396.8 277.3,433.3 281.4,429.6 285.5,424.8 289.6,415.1 293.7,395.6 297.8,442.3 301.9,447.9 306.0,423.1 310.2,417.9 314.3,455.5 318.4,433.5 322.5,412.1 326.6,432.3 330.7,418.5 334.8,422.7 338.9,416.2 343.0,419.1 347.1,421.4 351.2,408.0 355.3,432.6 359.4,423.2 363.5,409.5 367.6,432.5 371.7,429.9 375.8,435.1 379.9,437.6 384.0,397.3 388.1,418.4 392.3,399.3 396.4,414.8 400.5,423.7 404.6,428.6 408.7,421.2 412.8,425.4 416.9,412.4 421.0,436.6 425.1,422.5 429.2,418.5 433.3,427.9"/>
<polyline stroke="#f070c8" points="22.8,427.9 26.9,417.3 31.0,417.1 35.1,426.2 39.2,425.0 43.3,432.3 47.4,417.2 51.5,426.4 55.6,446.1 59.7,379.1 63.9,411.4 68.0,411.4 72.1,437.0 76.2,415.0 80.3,416.8 84.4,416.8 88.5,404.3 92.6,429.6 96.7,416.9 100.8,428.6 104.9,411.8 109.0,398.3 113.1,418.6 117.2,415.1 121.3,436.3 125.4,416.9 129.5,441.5 133.6,396.0 137.7,409.8 141.8,446.3 146.0,459.4 150.1,458.5 154.2,437.3 158.3,418.3 162.4,443.4 166.5,424.8 170.6,434.6 174.7,417.7 178.8,430.4 182.9,405.7 187.0,436.2 191.1,464.6 195.2,426.2 199.3,418.9 203.4,447.6 207.5,449.8 211.6,411.7 215.7,442.7 219.8,430.6 223.9,430.4 228.1,438.3 232.2,423.3 236.3,445.2 240.4,442.2 244.5,413.5 248.6,437.0 252.7,416.0 256.8,417.1 260.9,405.5 265.0,419.9 269.1,451.1 273.2,435.0 277.3,431.7 281.4,409.4 285.5,421.5 289.6,432.8 293.7,420.2 297.8,431.0 301.9,418.7 306.0,424.1 310.2,411.1 314.3,421.6 318.4,412.6 322.5,426.3 326.6,416.5 330.7,428.3 334.8,417.4 338.9,423.2 343.0,427.9 347.1,431.9 351.2,429.9 355.3,419.8 359.4,457.4 363.5,409.3 367.6,458.4 371.7,428.8 375.8,430.7 379.9,416.1 384.0,423.0 388.1,426.8 392.3,425.1 396.4,413.3 400.5,394.3 404.6,421.1 408.7,454.2 412.8,431.9 416.9,420.5 421.0,393.0 425.1,436.6 429.2,431.3 433.3,418.6"/>
</g>
<rect x="22.8" y="371.5" width="410.5" height="111.1" fill="none" stroke="#8a8a8a" stroke-width="0.9"/>
<line x1="20.8" y1="478.5" x2="22.8" y2="478.5" stroke="#555" stroke-width="0.7"/>
<text x="20.9" y="481.5" font-size="7.3" text-anchor="end" class="ser">3</text>
<text x="10.2" y="481.5" font-size="7.3" class="mn" textLength="5.2" lengthAdjust="spacingAndGlyphs">−</text>
<line x1="20.8" y1="461.1" x2="22.8" y2="461.1" stroke="#555" stroke-width="0.7"/>
<text x="20.9" y="464.1" font-size="7.3" text-anchor="end" class="ser">2</text>
<text x="10.2" y="464.1" font-size="7.3" class="mn" textLength="5.2" lengthAdjust="spacingAndGlyphs">−</text>
<line x1="20.8" y1="443.6" x2="22.8" y2="443.6" stroke="#555" stroke-width="0.7"/>
<text x="20.9" y="446.6" font-size="7.3" text-anchor="end" class="ser">1</text>
<text x="10.2" y="446.6" font-size="7.3" class="mn" textLength="5.2" lengthAdjust="spacingAndGlyphs">−</text>
<line x1="20.8" y1="426.2" x2="22.8" y2="426.2" stroke="#555" stroke-width="0.7"/>
<text x="20.9" y="429.2" font-size="7.3" text-anchor="end" class="ser">0</text>
<line x1="20.8" y1="408.8" x2="22.8" y2="408.8" stroke="#555" stroke-width="0.7"/>
<text x="20.9" y="411.8" font-size="7.3" text-anchor="end" class="ser">1</text>
<line x1="20.8" y1="391.3" x2="22.8" y2="391.3" stroke="#555" stroke-width="0.7"/>
<text x="20.9" y="394.3" font-size="7.3" text-anchor="end" class="ser">2</text>
<line x1="20.8" y1="373.9" x2="22.8" y2="373.9" stroke="#555" stroke-width="0.7"/>
<text x="20.9" y="376.9" font-size="7.3" text-anchor="end" class="ser">3</text>
<line x1="22.8" y1="482.6" x2="22.8" y2="484.4" stroke="#555" stroke-width="0.7"/>
<text x="23.1" y="491.1" font-size="7.5" text-anchor="middle" class="sans">0</text>
<line x1="104.9" y1="482.6" x2="104.9" y2="484.4" stroke="#555" stroke-width="0.7"/>
<text x="102.6" y="491.1" font-size="7.5" text-anchor="middle" class="sans">10</text>
<line x1="187.0" y1="482.6" x2="187.0" y2="484.4" stroke="#555" stroke-width="0.7"/>
<text x="184.7" y="491.1" font-size="7.5" text-anchor="middle" class="sans">20</text>
<line x1="269.1" y1="482.6" x2="269.1" y2="484.4" stroke="#555" stroke-width="0.7"/>
<text x="266.8" y="491.1" font-size="7.5" text-anchor="middle" class="sans">30</text>
<line x1="351.2" y1="482.6" x2="351.2" y2="484.4" stroke="#555" stroke-width="0.7"/>
<text x="348.9" y="491.1" font-size="7.5" text-anchor="middle" class="sans">40</text>
<line x1="433.3" y1="482.6" x2="433.3" y2="484.4" stroke="#555" stroke-width="0.7"/>
<text x="431.0" y="491.1" font-size="7.5" text-anchor="middle" class="sans">50</text>
<text transform="translate(10.0,426.8) rotate(-90)" font-size="11.6" text-anchor="middle" class="ser" textLength="28.1" lengthAdjust="spacingAndGlyphs">Value</text>
<text x="226.95" y="504.0" font-size="12.4" text-anchor="middle" class="ser" textLength="63.3" lengthAdjust="spacingAndGlyphs">Latent index</text>
<text x="227.1" y="521.8" font-size="11.4" text-anchor="middle" class="ser">(c)</text>
<rect x="440.5" y="372.5" width="84.0" height="84.0" fill="#fff" stroke="#000" stroke-width="1.1"/>
<line x1="444.4" y1="379.9" x2="485" y2="379.9" stroke="#f79fd4" stroke-width="3.6"/>
<text x="487.8" y="382.7" font-size="9.6" class="ser lg" textLength="30.8" lengthAdjust="spacingAndGlyphs">Happy</text>
<line x1="444.4" y1="391.4" x2="485" y2="391.4" stroke="#f00c14" stroke-width="3.6"/>
<text x="487.8" y="394.2" font-size="9.6" class="ser lg" textLength="16.3" lengthAdjust="spacingAndGlyphs">Sad</text>
<line x1="444.4" y1="402.9" x2="485" y2="402.9" stroke="#a56fc8" stroke-width="3.6"/>
<text x="487.8" y="405.7" font-size="9.6" class="ser lg" textLength="34.6" lengthAdjust="spacingAndGlyphs">Neutral</text>
<line x1="444.4" y1="414.4" x2="485" y2="414.4" stroke="#0e66b0" stroke-width="3.6"/>
<text x="487.8" y="417.2" font-size="9.6" class="ser lg" textLength="36.9" lengthAdjust="spacingAndGlyphs">Surprise</text>
<line x1="444.4" y1="425.9" x2="485" y2="425.9" stroke="#0c9a18" stroke-width="3.6"/>
<text x="487.8" y="428.7" font-size="9.6" class="ser lg" textLength="34.2" lengthAdjust="spacingAndGlyphs">Disgust</text>
<line x1="444.4" y1="437.4" x2="485" y2="437.4" stroke="#9a4a3c" stroke-width="3.6"/>
<text x="487.8" y="440.2" font-size="9.6" class="ser lg" textLength="28" lengthAdjust="spacingAndGlyphs">Anger</text>
<line x1="444.4" y1="448.9" x2="485" y2="448.9" stroke="#ff8412" stroke-width="3.6"/>
<text x="487.8" y="451.7" font-size="9.6" class="ser lg" textLength="19.7" lengthAdjust="spacingAndGlyphs">Fear</text>
</svg>
</body></html>
